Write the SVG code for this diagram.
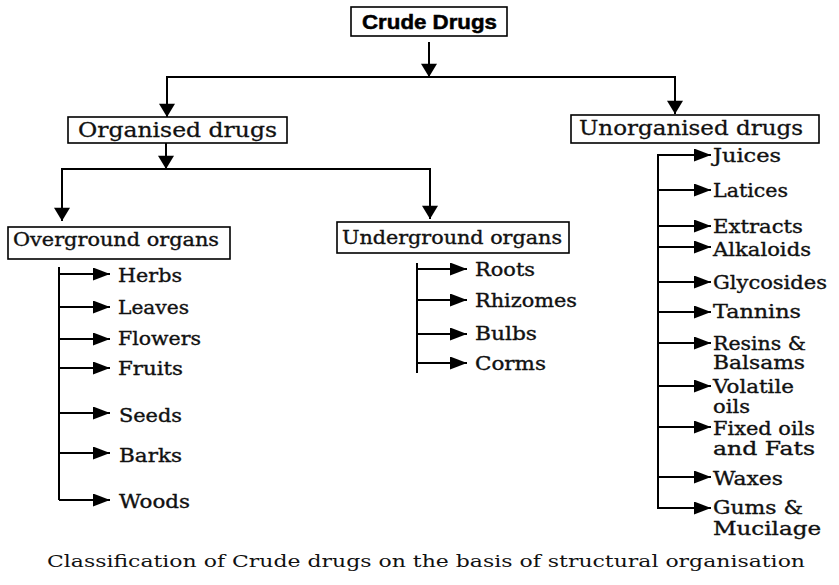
<svg xmlns="http://www.w3.org/2000/svg" width="839" height="585" viewBox="0 0 839 585">
<style>
.box{fill:#fff;stroke:#000;stroke-width:1.6}
.ln{fill:none;stroke:#000;stroke-width:2}
.t{font-family:"DejaVu Serif","Liberation Serif",serif;font-size:18px;fill:#111;stroke:#111;stroke-width:0.35}
.h{font-family:"DejaVu Serif","Liberation Serif",serif;font-size:21px;fill:#111;stroke:#111;stroke-width:0.3}
.c{font-family:"Liberation Sans",Arial,sans-serif;font-size:21px;font-weight:bold;fill:#000;stroke:#000;stroke-width:0.5}
.cap{font-family:"DejaVu Serif","Liberation Serif",serif;font-size:16px;fill:#111}
</style>
<defs>
<marker id="ad" markerUnits="userSpaceOnUse" markerWidth="20" markerHeight="16" refX="15" refY="9" orient="auto" viewBox="0 0 16 18"><path d="M0,0 L15,9 L0,18 z" fill="#000"/></marker>
<marker id="ar" markerUnits="userSpaceOnUse" markerWidth="17" markerHeight="13" refX="17" refY="6.5" orient="auto" viewBox="0 0 17 13"><path d="M0,0 L17,6.5 L0,13 z" fill="#000"/></marker>
</defs>
<rect width="839" height="585" fill="#fff"/>
<g id="connectors" class="ln">
<path d="M429 42 V77" marker-end="url(#ad)"/>
<path d="M166 77 H676"/>
<path d="M167 76 V117" marker-end="url(#ad)"/>
<path d="M675 76 V114" marker-end="url(#ad)"/>
<path d="M166 143 V169" marker-end="url(#ad)"/>
<path d="M61 169 H431"/>
<path d="M62 168 V221" marker-end="url(#ad)"/>
<path d="M430 168 V219" marker-end="url(#ad)"/>
<path d="M59 267 V500"/>
<path d="M59 274 H110" marker-end="url(#ar)"/>
<path d="M59 307 H110" marker-end="url(#ar)"/>
<path d="M59 339 H110" marker-end="url(#ar)"/>
<path d="M59 368 H110" marker-end="url(#ar)"/>
<path d="M59 413 H110" marker-end="url(#ar)"/>
<path d="M59 453 H110" marker-end="url(#ar)"/>
<path d="M59 500 H110" marker-end="url(#ar)"/>
<path d="M417 263 V373"/>
<path d="M417 269 H467" marker-end="url(#ar)"/>
<path d="M417 300 H467" marker-end="url(#ar)"/>
<path d="M417 334 H467" marker-end="url(#ar)"/>
<path d="M417 363 H467" marker-end="url(#ar)"/>
<path d="M658 155 V508"/>
<path d="M657 155 H711" marker-end="url(#ar)"/>
<path d="M658 190 H711" marker-end="url(#ar)"/>
<path d="M658 226 H711" marker-end="url(#ar)"/>
<path d="M658 247 H711" marker-end="url(#ar)"/>
<path d="M658 282 H711" marker-end="url(#ar)"/>
<path d="M658 312 H711" marker-end="url(#ar)"/>
<path d="M658 343 H711" marker-end="url(#ar)"/>
<path d="M658 386 H711" marker-end="url(#ar)"/>
<path d="M658 427 H711" marker-end="url(#ar)"/>
<path d="M658 477 H711" marker-end="url(#ar)"/>
<path d="M657 508 H711" marker-end="url(#ar)"/>
</g>
<g id="crude">
<rect class="box" x="351" y="7" width="156" height="29"/>
<text class="c" x="362" y="29" textLength="135" lengthAdjust="spacingAndGlyphs">Crude Drugs</text>
</g>
<g id="organised">
<rect class="box" x="68" y="117" width="219" height="26"/>
<text class="h" x="78" y="137" textLength="199" lengthAdjust="spacingAndGlyphs">Organised drugs</text>
</g>
<g id="unorganised">
<rect class="box" x="571" y="115" width="248" height="28"/>
<text class="h" x="579" y="135" textLength="224" lengthAdjust="spacingAndGlyphs">Unorganised drugs</text>
</g>
<g id="overground">
<rect class="box" x="8" y="227" width="222" height="32"/>
<text class="t" x="13" y="246" textLength="206" lengthAdjust="spacingAndGlyphs">Overground organs</text>
</g>
<g id="underground">
<rect class="box" x="337" y="222" width="232" height="31"/>
<text class="t" x="342" y="244" textLength="220" lengthAdjust="spacingAndGlyphs">Underground organs</text>
</g>
<g id="over-items">
<text class="t" x="118" y="282" textLength="64" lengthAdjust="spacingAndGlyphs">Herbs</text>
<text class="t" x="118" y="314" textLength="71" lengthAdjust="spacingAndGlyphs">Leaves</text>
<text class="t" x="118" y="345" textLength="83" lengthAdjust="spacingAndGlyphs">Flowers</text>
<text class="t" x="118" y="375" textLength="65" lengthAdjust="spacingAndGlyphs">Fruits</text>
<text class="t" x="119" y="422" textLength="63" lengthAdjust="spacingAndGlyphs">Seeds</text>
<text class="t" x="119" y="462" textLength="63" lengthAdjust="spacingAndGlyphs">Barks</text>
<text class="t" x="119" y="508" textLength="71" lengthAdjust="spacingAndGlyphs">Woods</text>
</g>
<g id="under-items">
<text class="t" x="475" y="276" textLength="60" lengthAdjust="spacingAndGlyphs">Roots</text>
<text class="t" x="475" y="307" textLength="102" lengthAdjust="spacingAndGlyphs">Rhizomes</text>
<text class="t" x="475" y="340" textLength="62" lengthAdjust="spacingAndGlyphs">Bulbs</text>
<text class="t" x="475" y="370" textLength="71" lengthAdjust="spacingAndGlyphs">Corms</text>
</g>
<g id="unorg-items">
<text class="t" x="713" y="162" textLength="68" lengthAdjust="spacingAndGlyphs">Juices</text>
<text class="t" x="713" y="197" textLength="75" lengthAdjust="spacingAndGlyphs">Latices</text>
<text class="t" x="713" y="233" textLength="90" lengthAdjust="spacingAndGlyphs">Extracts</text>
<text class="t" x="713" y="256" textLength="98" lengthAdjust="spacingAndGlyphs">Alkaloids</text>
<text class="t" x="713" y="289" textLength="114" lengthAdjust="spacingAndGlyphs">Glycosides</text>
<text class="t" x="713" y="318" textLength="88" lengthAdjust="spacingAndGlyphs">Tannins</text>
<text class="t" x="713" y="350" textLength="93" lengthAdjust="spacingAndGlyphs">Resins &amp;</text>
<text class="t" x="713" y="369" textLength="92" lengthAdjust="spacingAndGlyphs">Balsams</text>
<text class="t" x="713" y="393" textLength="81" lengthAdjust="spacingAndGlyphs">Volatile</text>
<text class="t" x="713" y="413" textLength="37" lengthAdjust="spacingAndGlyphs">oils</text>
<text class="t" x="713" y="435" textLength="102" lengthAdjust="spacingAndGlyphs">Fixed oils</text>
<text class="t" x="713" y="455" textLength="102" lengthAdjust="spacingAndGlyphs">and Fats</text>
<text class="t" x="713" y="485" textLength="70" lengthAdjust="spacingAndGlyphs">Waxes</text>
<text class="t" x="713" y="514" textLength="90" lengthAdjust="spacingAndGlyphs">Gums &amp;</text>
<text class="t" x="713" y="535" textLength="108" lengthAdjust="spacingAndGlyphs">Mucilage</text>
</g>
<text class="cap" x="47" y="567" textLength="758" lengthAdjust="spacingAndGlyphs">Classification of Crude drugs on the basis of structural organisation</text>
</svg>
